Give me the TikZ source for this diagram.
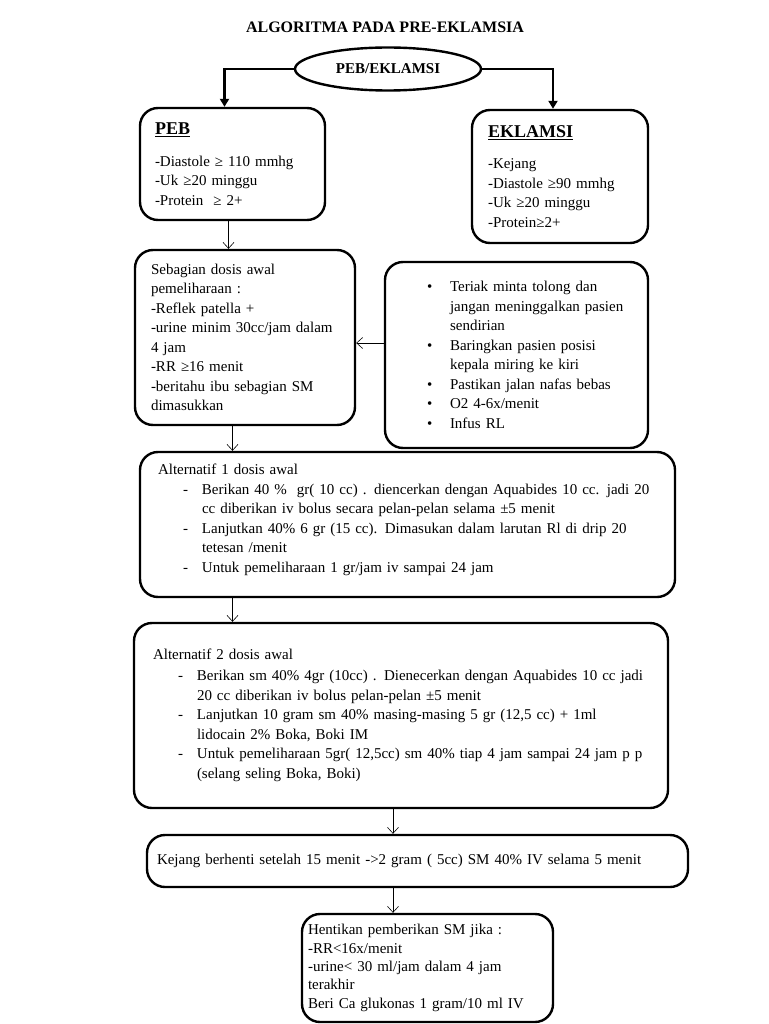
\documentclass[tikz,border=0pt]{standalone}
\usepackage{fontspec}
\setmainfont{Liberation Serif}
\usepackage{tikz}
\usetikzlibrary{arrows.meta,shapes.geometric}

\begin{document}
\begin{tikzpicture}[
    x=1pt, y=-1pt,
    font=\fontsize{15}{19.5}\selectfont,
    kotak/.style={draw, line width=2.4pt, rounded corners=18pt, align=left, inner ysep=0pt},
    panah/.style={-{Straight Barb[length=6pt,width=11pt]}, line width=0.6pt},
    tebal/.style={line width=2.4pt, -{Triangle[length=8pt,width=9pt]}}
]
    \useasboundingbox (0,0) rectangle (768,1024);

    % Title and start
    \node [font=\fontsize{16}{19}\selectfont\bfseries] (judul) at (385,27) {ALGORITMA PADA PRE-EKLAMSIA};
    \node [draw, ellipse, line width=2.4pt, minimum width=186pt, minimum height=43pt, inner sep=0pt, font=\fontsize{15}{18}\selectfont\bfseries] (pe) at (388,69) {PEB/EKLAMSI};

    % Boxes
    \node [kotak, minimum height=112pt, inner xsep=15pt, text width=155pt] (peb) at (232.5,164)
        {{\fontsize{18}{20}\selectfont\bfseries\underline{PEB}}\\[12pt]
         -Diastole ≥ 110 mmhg\\ -Uk ≥20 minggu\\ -Protein \ ≥ 2+};
    \node [kotak, minimum height=133pt, inner xsep=16pt, text width=144pt] (eklamsi) at (560,176.5)
        {{\fontsize{18}{20}\selectfont\bfseries\underline{EKLAMSI}}\\[12pt]
         -Kejang\\ -Diastole ≥90 mmhg\\ -Uk ≥20 minggu\\ -Protein≥2+};
    \node [kotak, minimum height=175pt, inner xsep=16pt, text width=188pt] (sebagian) at (245,337.5)
        {Sebagian dosis awal\\ pemeliharaan :\\ -Reflek patella +\\ -urine minim 30cc/jam dalam\\ 4 jam\\
         -RR ≥16 menit\\ -beritahu ibu sebagian SM\\ dimasukkan};
    \node [kotak, minimum height=186pt, inner xsep=18pt, text width=227pt] (tindakan) at (516.5,355)
        {\hspace*{24pt}\makebox[23pt][l]{•}Teriak minta tolong dan\\ \hspace*{47pt}jangan meninggalkan pasien\\ \hspace*{47pt}sendirian\\
         \hspace*{24pt}\makebox[23pt][l]{•}Baringkan pasien posisi\\ \hspace*{47pt}kepala miring ke kiri\\
         \hspace*{24pt}\makebox[23pt][l]{•}Pastikan jalan nafas bebas\\
         \hspace*{24pt}\makebox[23pt][l]{•}O2 4-6x/menit\\
         \hspace*{24pt}\makebox[23pt][l]{•}Infus RL};
    \node [kotak, minimum height=145pt, inner xsep=18pt, text width=499pt] (alt1) at (407.5,524.5)
        {Alternatif 1 dosis awal\\
         \hspace*{25pt}\makebox[19pt][l]{-}\mbox{Berikan 40 \% \ gr( 10 cc) . diencerkan dengan Aquabides 10 cc. jadi 20}\\
         \hspace*{44pt}\mbox{cc diberikan iv bolus secara pelan-pelan selama ±5 menit}\\
         \hspace*{25pt}\makebox[19pt][l]{-}\mbox{Lanjutkan 40\% 6 gr (15 cc). Dimasukan dalam larutan Rl di drip 20}\\
         \hspace*{44pt}tetesan /menit\\
         \hspace*{25pt}\makebox[19pt][l]{-}\mbox{Untuk pemeliharaan 1 gr/jam iv sampai 24 jam}\\[-7pt]\mbox{}};
    \node [kotak, minimum height=185pt, inner xsep=19pt, text width=496pt] (alt2) at (401,715.5)
        {Alternatif 2 dosis awal\\[1.5pt]
         \hspace*{25pt}\makebox[19pt][l]{-}\mbox{Berikan sm 40\% 4gr (10cc) . Dienecerkan dengan Aquabides 10 cc jadi}\\
         \hspace*{44pt}\mbox{20 cc diberikan iv bolus pelan-pelan ±5 menit}\\
         \hspace*{25pt}\makebox[19pt][l]{-}\mbox{Lanjutkan 10 gram sm 40\% masing-masing 5 gr (12,5 cc) + 1ml}\\
         \hspace*{44pt}lidocain 2\% Boka, Boki IM\\
         \hspace*{25pt}\makebox[19pt][l]{-}\mbox{Untuk pemeliharaan 5gr( 12,5cc) sm 40\% tiap 4 jam sampai 24 jam p p}\\
         \hspace*{44pt}(selang seling Boka, Boki)};
    \node [kotak, minimum height=52pt, inner xsep=10pt, text width=521pt] (kejang) at (417.5,861)
        {\mbox{Kejang berhenti setelah 15 menit ->2 gram ( 5cc) SM 40\% IV selama 5 menit}};
    \node [kotak, minimum height=108pt, inner xsep=6pt, text width=239pt, font=\fontsize{15}{18.3}\selectfont] (hentikan) at (427.5,968)
        {Hentikan pemberikan SM jika :\\ -RR<16x/menit\\ -urine< 30 ml/jam dalam 4 jam\\ terakhir\\ Beri Ca glukonas 1 gram/10 ml IV};

    % Arrows
    \draw [tebal] (pe.west) -| ([xshift=-8pt]peb.north);
    \draw [tebal] (pe.east) -| ([xshift=-7pt]eklamsi.north);
    \draw [panah] ([xshift=-4pt]peb.south) -- ([xshift=-4pt]peb.south |- sebagian.north);
    \draw [panah] ([yshift=12pt]tindakan.west) -- ([yshift=12pt]tindakan.west -| sebagian.east);
    \draw [panah] (sebagian.south -| peb.south) -- (alt1.north -| peb.south);
    \draw [panah] (alt1.south -| peb.south) -- (alt2.north -| peb.south);
    \draw [panah] ([xshift=-8pt]alt2.south) -- ([xshift=-8pt]alt2.south |- kejang.north);
    \draw [panah] ([xshift=-8pt]alt2.south |- kejang.south) -- ([xshift=-8pt]alt2.south |- hentikan.north);
\end{tikzpicture}
\end{document}
